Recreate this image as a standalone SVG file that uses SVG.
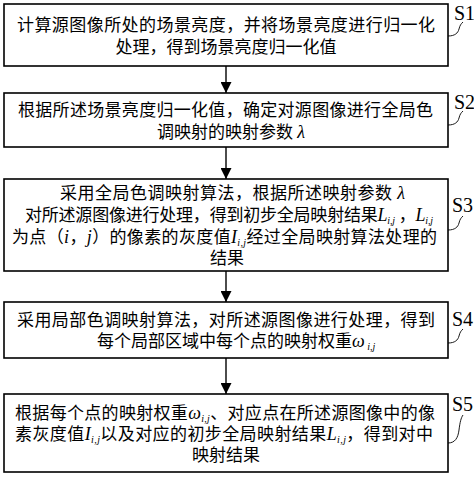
<svg xmlns="http://www.w3.org/2000/svg" width="474" height="477" viewBox="0 0 474 477">
<style>
.box{fill:#fff;stroke:#000;stroke-width:1.6}
.t{font-family:"Liberation Serif","Noto Sans CJK SC",serif;font-size:17px;fill:#000}
.m{font-family:"Liberation Serif",serif;font-style:italic;font-size:18px}
.s{font-size:10px}
.lab{font-family:"Liberation Serif",serif;font-size:20px;fill:#000}
.lead{fill:none;stroke:#000;stroke-width:0.9}
.conn{stroke:#000;stroke-width:1.4;fill:none}
</style>
<defs>
<marker id="ah" markerUnits="userSpaceOnUse" markerWidth="11" markerHeight="11" refX="10" refY="5" orient="auto" viewBox="0 0 10 10">
<path d="M0,0 L10,5 L0,10 z" fill="#000"/>
</marker>
</defs>
<rect width="474" height="477" fill="#fff"/>
<g id="connectors">
<line class="conn" x1="226" y1="66" x2="226" y2="93" marker-end="url(#ah)"/>
<line class="conn" x1="226" y1="147" x2="226" y2="179" marker-end="url(#ah)"/>
<line class="conn" x1="226" y1="271" x2="226" y2="302" marker-end="url(#ah)"/>
<line class="conn" x1="226" y1="358" x2="226" y2="394" marker-end="url(#ah)"/>
</g>
<g id="S1">
<rect class="box" x="4" y="4" width="444" height="62"/>
<text class="t" x="17" y="31" textLength="418" lengthAdjust="spacing">计算源图像所处的场景亮度，并将场景亮度进行归一化</text>
<text class="t" x="226" y="53" text-anchor="middle">处理，得到场景亮度归一化值</text>
<path class="lead" d="M448,36 C455,36 458,33 459,29 S461,24 463,22"/>
<text class="lab" x="454" y="20">S1</text>
</g>
<g id="S2">
<rect class="box" x="4" y="93" width="444" height="54"/>
<text class="t" x="18" y="116" textLength="415" lengthAdjust="spacing">根据所述场景亮度归一化值，确定对源图像进行全局色</text>
<text class="t" x="157" y="138">调映射的映射参数 <tspan class="m">λ</tspan></text>
<path class="lead" d="M448,125 C455,125 458,122 459,118 S461,113 463,111"/>
<text class="lab" x="454" y="109">S2</text>
</g>
<g id="S3">
<rect class="box" x="4" y="179" width="444" height="92"/>
<text class="t" x="60" y="199" textLength="345" lengthAdjust="spacing">采用全局色调映射算法，根据所述映射参数 <tspan class="m">λ</tspan></text>
<text class="t" x="25" y="221" textLength="408" lengthAdjust="spacing">对所述源图像进行处理，得到初步全局映射结果<tspan class="m">L</tspan><tspan class="m s" dy="3">i,j</tspan><tspan dy="-3"> ，</tspan><tspan class="m">L</tspan><tspan class="m s" dy="3">i,j</tspan></text>
<text class="t" x="12" y="243" textLength="425" lengthAdjust="spacing">为点（<tspan class="m">i</tspan>，<tspan class="m">j</tspan>）的像素的灰度值<tspan class="m">I</tspan><tspan class="m s" dy="3">i,j</tspan><tspan dy="-3">经过全局映射算法处理的</tspan></text>
<text class="t" x="227" y="264" text-anchor="middle">结果</text>
<path class="lead" d="M448,230 C455,230 458,227 459,223 S461,218 463,216"/>
<text class="lab" x="452" y="212">S3</text>
</g>
<g id="S4">
<rect class="box" x="4" y="302" width="444" height="56"/>
<text class="t" x="17" y="326" textLength="418" lengthAdjust="spacing">采用局部色调映射算法，对所述源图像进行处理，得到</text>
<text class="t" x="97" y="347">每个局部区域中每个点的映射权重<tspan class="m">ω</tspan><tspan class="m s" dy="3"> i,j</tspan></text>
<path class="lead" d="M448,343 C455,343 458,340 459,336 S461,331 463,329"/>
<text class="lab" x="452" y="326">S4</text>
</g>
<g id="S5">
<rect class="box" x="4" y="394" width="444" height="78"/>
<text class="t" x="15" y="419" textLength="420" lengthAdjust="spacing">根据每个点的映射权重<tspan class="m">ω</tspan><tspan class="m s" dy="3">i,j</tspan><tspan dy="-3">、对应点在所述源图像中的像</tspan></text>
<text class="t" x="15" y="440" textLength="418" lengthAdjust="spacing">素灰度值<tspan class="m">I</tspan><tspan class="m s" dy="3">i,j</tspan><tspan dy="-3">以及对应的初步全局映射结果</tspan><tspan class="m">L</tspan><tspan class="m s" dy="3">i,j</tspan><tspan dy="-3">，得到对中</tspan></text>
<text class="t" x="226" y="461" text-anchor="middle">映射结果</text>
<path class="lead" d="M448,443 C455,443 458,438 459,430 S461,418 463,415"/>
<text class="lab" x="452" y="411">S5</text>
</g>
</svg>
